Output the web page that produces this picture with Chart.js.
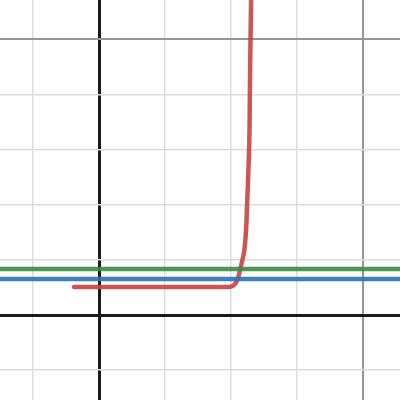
<!DOCTYPE html>
<html>
<head>
<meta charset="utf-8">
<script src="https://cdn.jsdelivr.net/npm/chart.js@4/dist/chart.umd.min.js"></script>
<style>
  html, body { margin: 0; padding: 0; background: #fff; }
  #wrap { width: 400px; height: 400px; }
</style>
</head>
<body>
<div id="wrap"><canvas id="myChart"></canvas></div>
<script>
// view window and grid lines (graph units)
const xRange = [-0.75, 2.28];
const yRange = [-1.54, 5.71];
const xGrid = [-0.5, 0, 0.5, 1, 1.5, 2];
const yGrid = [-1, 0, 1, 2, 3, 4, 5];
const xMajor = [2];
const yMajor = [5];

// horizontal lines
const greenY = 0.836;
const blueY = 0.655;

// red curve
const redX = [-0.189, 0.977, 1.008, 1.030, 1.051, 1.068, 1.086, 1.101, 1.114, 1.123, 1.133, 1.140, 1.145, 1.152, 1.153];
const redY = [0.507, 0.507, 0.522, 0.562, 0.652, 0.815, 0.996, 1.178, 1.540, 2.083, 2.717, 3.351, 4.529, 5.707, 5.888];

document.addEventListener('DOMContentLoaded', function () {
  const ctx = document.getElementById('myChart').getContext('2d');

  const gridColor = (major) => (c) => {
    const v = c.tick.value;
    if (Math.abs(v) < 1e-9) return '#1a1a1a';
    if (major.some(m => Math.abs(m - v) < 1e-9)) return '#969696';
    return '#dddddd';
  };
  const gridWidth = (major) => (c) => {
    const v = c.tick.value;
    if (Math.abs(v) < 1e-9) return 3;
    if (major.some(m => Math.abs(m - v) < 1e-9)) return 2;
    return 1.5;
  };

  const flat = (y) => [{ x: xRange[0] - 1, y: y }, { x: xRange[1] + 1, y: y }];

  new Chart(ctx, {
    type: 'scatter',
    data: {
      datasets: [{
        data: flat(greenY),
        showLine: true,
        borderColor: 'rgba(56, 140, 70, 0.9)',
        borderWidth: 4.5,
        pointRadius: 0
      }, {
        data: flat(blueY),
        showLine: true,
        borderColor: 'rgba(45, 112, 179, 0.9)',
        borderWidth: 4.5,
        pointRadius: 0
      }, {
        data: redX.map((x, i) => ({ x: x, y: redY[i] })),
        showLine: true,
        borderColor: 'rgba(199, 68, 64, 0.9)',
        borderWidth: 4.5,
        borderCapStyle: 'round',
        borderJoinStyle: 'round',
        cubicInterpolationMode: 'monotone',
        pointRadius: 0
      }]
    },
    options: {
      responsive: true,
      maintainAspectRatio: false,
      animation: false,
      layout: { padding: 0 },
      scales: {
        x: {
          type: 'linear',
          min: xRange[0],
          max: xRange[1],
          afterBuildTicks: (scale) => { scale.ticks = xGrid.map(v => ({ value: v })); },
          ticks: { display: false },
          border: { display: false },
          grid: { drawTicks: false, color: gridColor(xMajor), lineWidth: gridWidth(xMajor) }
        },
        y: {
          type: 'linear',
          min: yRange[0],
          max: yRange[1],
          afterBuildTicks: (scale) => { scale.ticks = yGrid.map(v => ({ value: v })); },
          ticks: { display: false },
          border: { display: false },
          grid: { drawTicks: false, color: gridColor(yMajor), lineWidth: gridWidth(yMajor) }
        }
      },
      plugins: {
        legend: { display: false },
        tooltip: { enabled: false }
      }
    }
  });
});
</script>
</body>
</html>
